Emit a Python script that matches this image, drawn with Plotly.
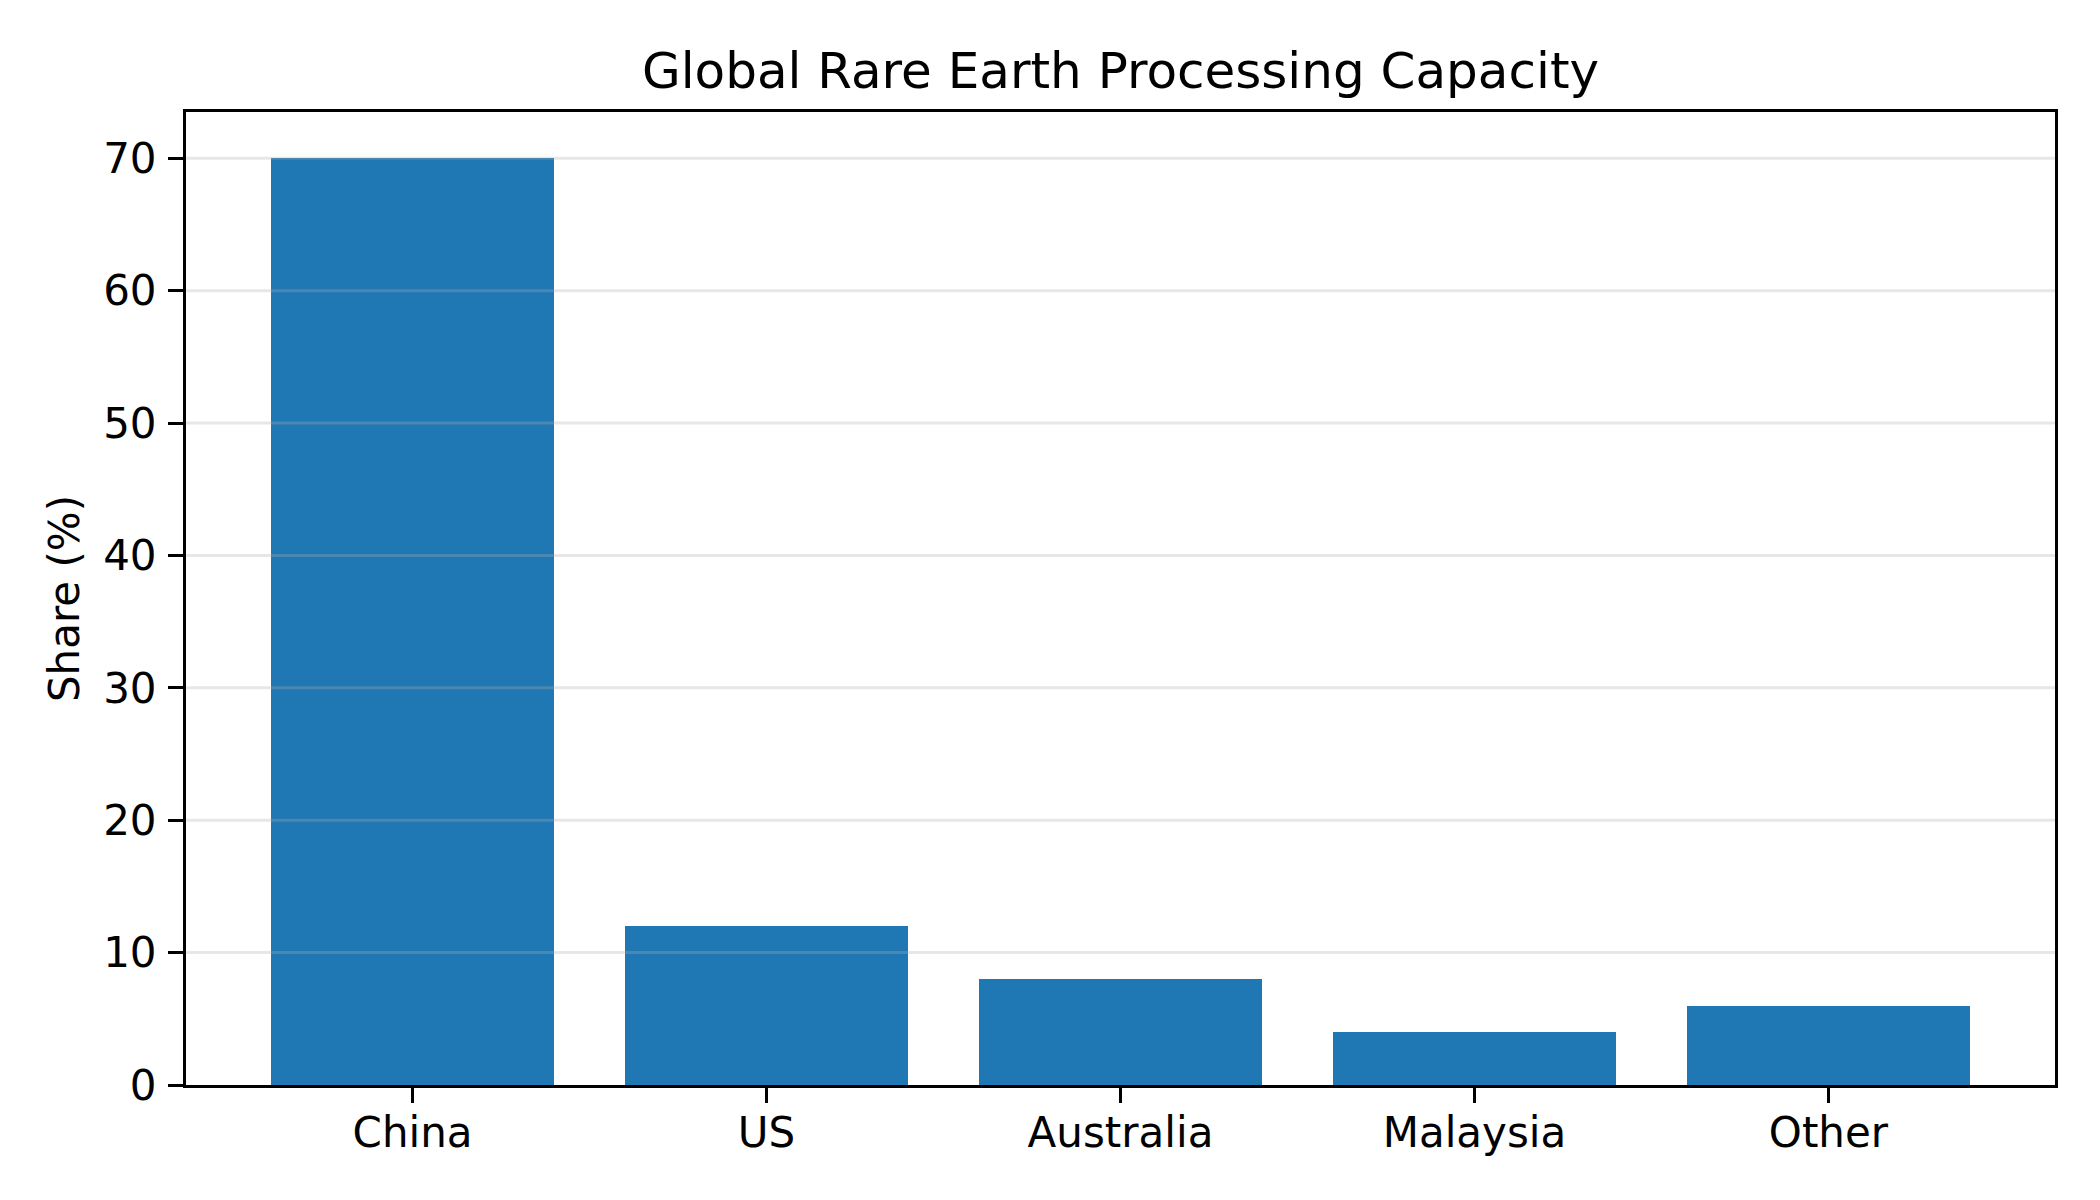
import plotly.graph_objects as go

countries = ["China", "US", "Australia", "Malaysia", "Other"]
shares = [70, 12, 8, 4, 6]
y_ticks = [0, 10, 20, 30, 40, 50, 60, 70]

FONT = "DejaVu Sans"
fig = go.Figure()
fig.add_trace(go.Bar(x=list(range(len(countries))), y=shares, width=0.8,
                     marker=dict(color="#1f77b4", line=dict(width=0)), showlegend=False))

# gridlines drawn above bars, like the reference
for t in y_ticks[1:]:
    fig.add_shape(type="line", xref="paper", x0=0, x1=1, yref="y", y0=t, y1=t,
                  line=dict(color="rgba(176,176,176,0.3)", width=3), layer="above")

fig.update_layout(
    width=2100, height=1200,
    paper_bgcolor="white", plot_bgcolor="white",
    margin=dict(l=186, r=45, t=112, b=115),
    font=dict(family=FONT, size=42, color="black"),
    title=dict(text="Global Rare Earth Processing Capacity", font=dict(size=50, family=FONT, color="black"),
               x=0.5, xref="paper", xanchor="center", y=1, yref="paper", yanchor="bottom", pad=dict(b=24)),
    bargap=0,
)
fig.update_xaxes(range=[-0.64, 4.64], tickmode="array", tickvals=list(range(len(countries))),
                 ticktext=countries, showgrid=False, zeroline=False,
                 showline=True, linecolor="black", linewidth=3, mirror=True,
                 ticks="outside", ticklen=15, tickwidth=3, tickcolor="black",
                 ticklabelstandoff=-6, tickfont=dict(size=42, family=FONT))
fig.update_yaxes(range=[0, 73.5], tickmode="array", tickvals=y_ticks, showgrid=False, zeroline=False,
                 showline=True, linecolor="black", linewidth=3, mirror=True,
                 ticks="outside", ticklen=15, tickwidth=3, tickcolor="black",
                 ticklabelstandoff=3, tickfont=dict(size=42, family=FONT),
                 title=dict(text="Share (%)", font=dict(size=42, family=FONT), standoff=11))
fig.write_html("out.html")
